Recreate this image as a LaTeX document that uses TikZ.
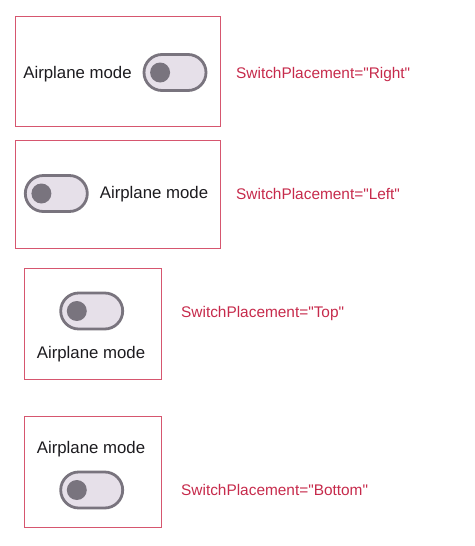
\documentclass[tikz,border=0pt]{standalone}
\usepackage{fontspec}
\setmainfont{Liberation Sans}
\usetikzlibrary{positioning}

\definecolor{framered}{HTML}{D6566F}
\definecolor{propred}{HTML}{C62A4B}
\definecolor{trackfill}{HTML}{E6E0E9}
\definecolor{trackgray}{HTML}{79747E}
\definecolor{inkblack}{HTML}{1C1B1F}

\newcommand{\qq}{\textquotedbl}

\begin{document}
\begin{tikzpicture}[x=1pt,y=-1pt,
    frame/.style={draw=framered,line width=1pt,inner sep=0pt},
    track/.style={draw=trackgray,fill=trackfill,line width=2.8pt,inner sep=0pt,
        minimum width=62pt,minimum height=36pt,rounded corners=18pt},
    thumb/.style={circle,fill=trackgray,inner sep=0pt,minimum size=20pt},
    caption/.style={inner sep=0pt,anchor=base,text=inkblack,font=\fontsize{16.8}{20}\selectfont},
    prop/.style={inner sep=0pt,anchor=base west,text=propred,font=\fontsize{15.4}{18}\selectfont}]

    \useasboundingbox (0,0) rectangle (474,546);

    % switch on the right
    \node[frame,minimum width=205pt,minimum height=110pt] (box1) at (117.5,71) {};
    \node[caption] (air1) at (77.5,78) {Airplane mode};
    \node[track] (sw1) at (175,72.5) {};
    \node[thumb] (dot1) at ([xshift=17.5pt]sw1.west) {};
    \node[prop] (pl1) at (236,78) {SwitchPlacement=\qq Right\qq};

    % switch on the left
    \node[frame,minimum width=205pt,minimum height=108pt] (box2) at (117.5,194) {};
    \node[track] (sw2) at (56.3,193.5) {};
    \node[thumb] (dot2) at ([xshift=17.5pt]sw2.west) {};
    \node[caption] (air2) at (154,198.5) {Airplane mode};
    \node[prop] (pl2) at (236,199.5) {SwitchPlacement=\qq Left\qq};

    % switch on top
    \node[frame,minimum width=137pt,minimum height=111pt] (box3) at (92.5,323.5) {};
    \node[track] (sw3) at (91.7,311) {};
    \node[thumb] (dot3) at ([xshift=17.5pt]sw3.west) {};
    \node[caption] (air3) at (91,358.3) {Airplane mode};
    \node[prop] (pl3) at (181,317.5) {SwitchPlacement=\qq Top\qq};

    % switch at the bottom
    \node[frame,minimum width=137pt,minimum height=111pt] (box4) at (92.5,471.5) {};
    \node[caption] (air4) at (91,453.3) {Airplane mode};
    \node[track] (sw4) at (91.7,490) {};
    \node[thumb] (dot4) at ([xshift=17.5pt]sw4.west) {};
    \node[prop] (pl4) at (181,495.5) {SwitchPlacement=\qq Bottom\qq};
\end{tikzpicture}
\end{document}
